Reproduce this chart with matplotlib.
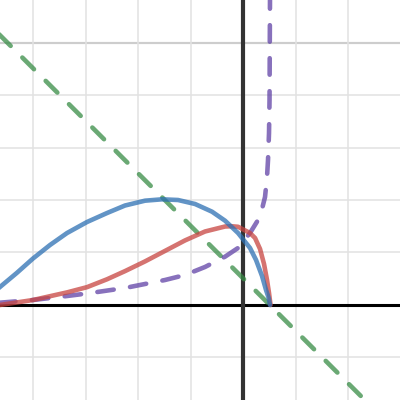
import numpy as np
import matplotlib
matplotlib.use('Agg')
import matplotlib.pyplot as plt

# values, in graph units (1 grid square = 1)
blue_x = [-4.705, -4.629, -4.310, -4.000, -3.676, -3.352, -2.971, -2.590, -2.248, -1.867,
          -1.543, -1.238, -0.914, -0.590, -0.343, -0.095, 0.133, 0.248, 0.362, 0.438,
          0.486, 0.514]
blue_y = [0.276, 0.343, 0.610, 0.886, 1.143, 1.371, 1.581, 1.752, 1.895, 1.987,
          2.013, 2.000, 1.924, 1.777, 1.606, 1.371, 1.086, 0.857, 0.552, 0.286,
          0.143, 0.000]

red_x = [-4.705, -4.629, -4.000, -3.352, -2.971, -2.590, -2.248, -1.867, -1.486, -1.105,
         -0.724, -0.343, -0.220, -0.095, 0.133, 0.229, 0.324, 0.400, 0.457, 0.495, 0.524]
red_y = [-0.010, 0.000, 0.095, 0.240, 0.340, 0.490, 0.645, 0.830, 1.030, 1.230,
         1.400, 1.495, 1.500, 1.490, 1.371, 1.276, 1.067, 0.781, 0.476, 0.229, 0.000]

purple_x = [-4.705, -4.629, -4.000, -3.352, -2.971, -2.248, -1.867, -1.486, -1.105, -0.724,
            -0.343, -0.095, 0.133, 0.286, 0.362, 0.419, 0.457, 0.476, 0.495, 0.505,
            0.510, 0.514]
purple_y = [0.038, 0.044, 0.095, 0.171, 0.219, 0.324, 0.400, 0.476, 0.571, 0.724,
            0.920, 1.086, 1.371, 1.619, 1.829, 2.057, 2.438, 2.762, 3.276, 3.905,
            5.048, 5.905]

green_x = [-4.70, 3.00]
green_y = [5.21, -2.49]

blue = '#2d70b3'
red = '#c74440'
green = '#388c46'
purple = '#6042a6'

fig = plt.figure(figsize=(4, 4), dpi=100)
ax = fig.add_axes([0, 0, 1, 1])
ax.set_xlim(-4.629, 2.990)
ax.set_ylim(-1.810, 5.810)

# grid
ax.set_xticks(np.arange(-4, 3))
ax.set_yticks(np.arange(-1, 6))
ax.grid(True, color='#e2e2e2', linewidth=1.1, zorder=0)
ax.tick_params(length=0, labelbottom=False, labelleft=False)
for s in ax.spines.values():
    s.set_visible(False)
ax.axhline(5, color='#8c8c8c', linewidth=1.5, zorder=1)
ax.axhline(0, color='black', linewidth=2.2, zorder=2)
ax.axvline(0, color='#333333', linewidth=3.0, zorder=2)

lw = 3.3
ax.plot(green_x, green_y, color=green, alpha=0.75, lw=lw, dashes=(3.6, 3.6),
        dash_capstyle='round', zorder=3)
ax.plot(purple_x, purple_y, color=purple, alpha=0.75, lw=lw, dashes=(3.6, 3.6),
        dash_capstyle='round', zorder=4)
ax.plot(red_x, red_y, color=red, alpha=0.75, lw=lw, solid_capstyle='round', zorder=5)
ax.plot(blue_x, blue_y, color=blue, alpha=0.75, lw=lw, solid_capstyle='round', zorder=6)

fig.savefig('out.png', dpi=100)
